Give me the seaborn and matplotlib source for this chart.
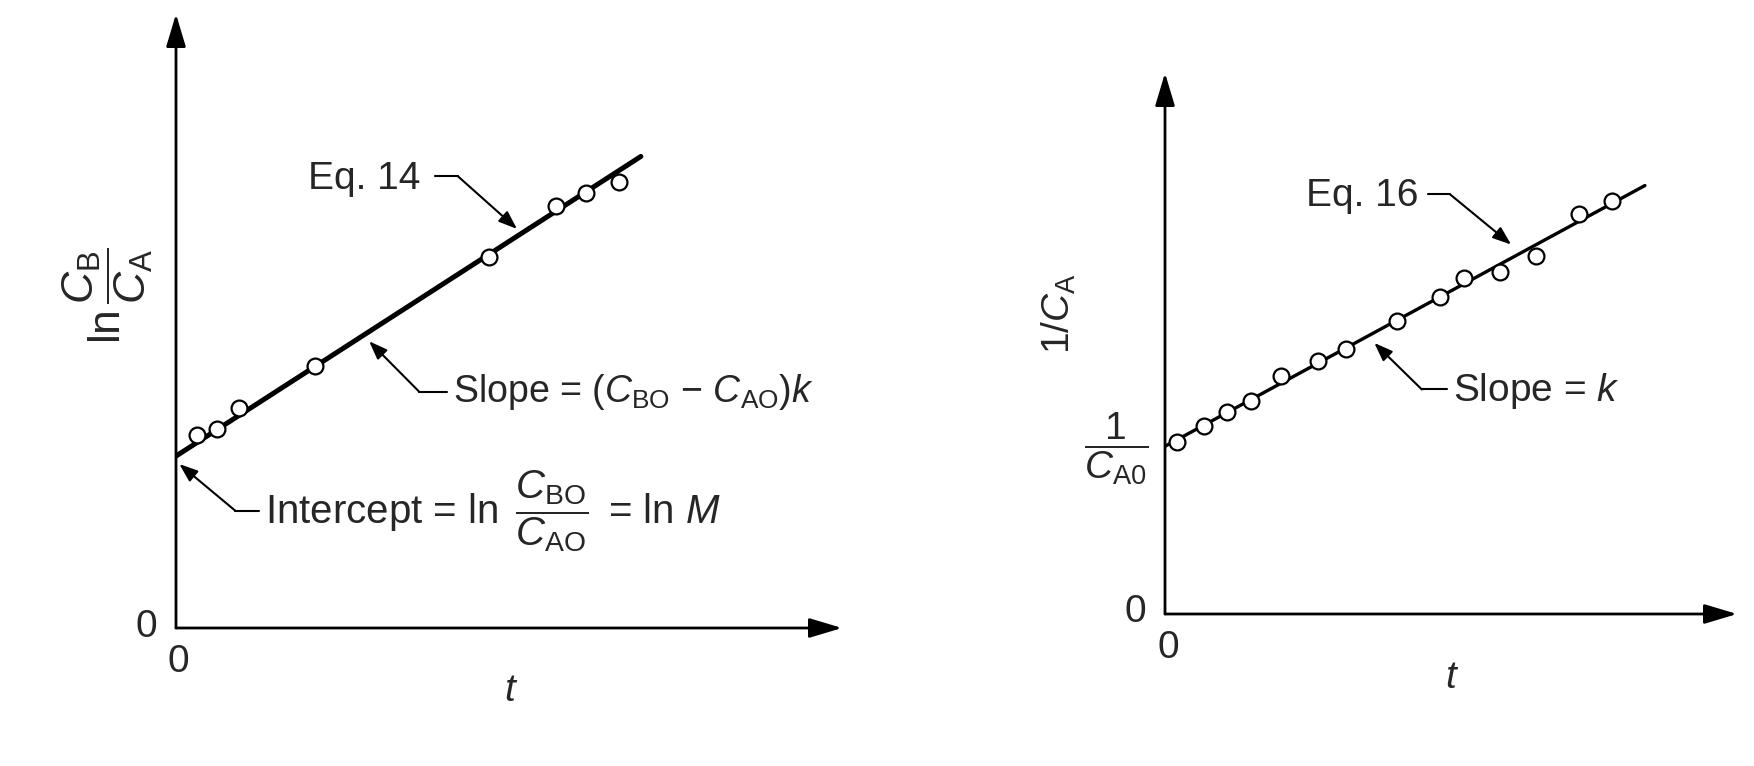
import matplotlib
matplotlib.use('Agg')
import matplotlib.pyplot as plt
import seaborn as sns

# second-order plots: ln(CB/CA) vs t (Eq. 14) and 1/CA vs t (Eq. 16)
left_t = [0.31, 0.62, 0.95, 2.09, 4.70, 5.70, 6.16, 6.65]
left_y = [3.15, 3.24, 3.58, 4.26, 6.05, 6.88, 7.09, 7.27]
left_fit_t = [0.0, 6.98]
left_fit_y = [2.80, 7.68]

right_t = [0.21, 0.68, 1.09, 1.51, 2.02, 2.68, 3.17, 4.05, 4.81, 5.22, 5.85, 6.49, 7.24, 7.82]
right_y = [3.18, 3.47, 3.74, 3.94, 4.40, 4.67, 4.90, 5.42, 5.86, 6.21, 6.33, 6.62, 7.39, 7.64]
right_fit_t = [0.0, 8.39]
right_fit_y = [3.10, 7.92]

sns.set_style('white')
plt.rcParams['font.family'] = ['Liberation Sans', 'DejaVu Sans']
plt.rcParams['mathtext.fontset'] = 'custom'
plt.rcParams['mathtext.rm'] = 'Liberation Sans'
plt.rcParams['mathtext.it'] = 'Liberation Sans:italic'
plt.rcParams['mathtext.bf'] = 'Liberation Sans:bold'

FS = 28
fig = plt.figure(figsize=(17.54, 7.66), dpi=100)
ax1 = fig.add_axes([0.10034, 0.18016, 0.37970, 0.80157])
ax2 = fig.add_axes([0.66420, 0.19843, 0.32611, 0.70627])

axis_arrow = dict(arrowstyle='-|>,head_length=1.0,head_width=0.3', mutation_scale=20,
                  lw=2.0, color='black', shrinkA=0, shrinkB=0)
lead_arrow = dict(arrowstyle='-|>,head_length=0.8,head_width=0.3', mutation_scale=14,
                  lw=1.5, color='black', shrinkA=0, shrinkB=0)


def frame(ax):
    ax.set_xlim(0, 10)
    ax.set_ylim(0, 10)
    for s in ax.spines.values():
        s.set_visible(False)
    ax.set_xticks([])
    ax.set_yticks([])
    ax.patch.set_alpha(0)
    ax.annotate('', xy=(10, 0), xytext=(0, 0), arrowprops=axis_arrow, annotation_clip=False)
    ax.annotate('', xy=(0, 10), xytext=(0, 0), arrowprops=axis_arrow, annotation_clip=False)


def leader(ax, start, corner, tip):
    ax.plot([start[0], corner[0]], [start[1], corner[1]], color='black', lw=1.5, clip_on=False)
    ax.annotate('', xy=tip, xytext=corner, arrowprops=lead_arrow, annotation_clip=False)


# left panel
frame(ax1)
sns.lineplot(x=left_fit_t, y=left_fit_y, ax=ax1, color='black', lw=3.6, zorder=2)
sns.scatterplot(x=left_t, y=left_y, ax=ax1, marker='o', s=130, facecolor='white',
                edgecolor='black', linewidth=1.6, zorder=3)
ax1.text(-0.44, 0.02, '0', fontsize=FS, ha='center', va='center')
ax1.text(0.03, -0.55, '0', fontsize=FS, ha='center', va='center')
ax1.text(5.03, -1.03, '$t$', fontsize=FS, ha='center', va='center')
ax1.text(-1.03, 5.42, r'$\mathrm{ln}\,\dfrac{C_\mathrm{B}}{C_\mathrm{A}}$', fontsize=32,
         ha='center', va='center', rotation=90)
ax1.text(2.82, 7.31, 'Eq. 14', fontsize=FS, ha='center', va='center')
leader(ax1, (3.89, 7.36), (4.23, 7.36), (5.12, 6.50))
ax1.text(4.16, 3.84, r'Slope = ($C_\mathrm{BO}$ $-$ $C_\mathrm{AO}$)$k$', fontsize=27,
         ha='left', va='center')
leader(ax1, (4.07, 3.85), (3.65, 3.85), (2.90, 4.67))
ax1.text(1.34, 1.91, r'Intercept = ln $\,\dfrac{C_\mathrm{BO}}{C_\mathrm{AO}}\,$ = ln $M$',
         fontsize=29, ha='left', va='center')
leader(ax1, (1.25, 1.91), (0.89, 1.91), (0.05, 2.67))

# right panel
frame(ax2)
sns.lineplot(x=right_fit_t, y=right_fit_y, ax=ax2, color='black', lw=2.4, zorder=2)
sns.scatterplot(x=right_t, y=right_y, ax=ax2, marker='o', s=130, facecolor='white',
                edgecolor='black', linewidth=1.6, zorder=3)
ax2.text(-0.52, 0.04, '0', fontsize=FS, ha='center', va='center')
ax2.text(0.05, -0.63, '0', fontsize=FS, ha='center', va='center')
ax2.text(5.02, -1.18, '$t$', fontsize=FS, ha='center', va='center')
ax2.text(-1.85, 5.55, r'1/$C_\mathrm{A}$', fontsize=FS, ha='center', va='center', rotation=90)
ax2.text(-0.85, 3.05, r'$\dfrac{1}{C_\mathrm{A0}}$', fontsize=FS, ha='center', va='center')
ax2.text(3.44, 7.73, 'Eq. 16', fontsize=FS, ha='center', va='center')
leader(ax2, (4.59, 7.76), (4.98, 7.76), (6.05, 6.83))
ax2.text(5.04, 4.13, r'Slope = $k$', fontsize=FS, ha='left', va='center')
leader(ax2, (4.93, 4.15), (4.49, 4.15), (3.66, 5.01))

fig.savefig('out.png', dpi=100, facecolor='white')
